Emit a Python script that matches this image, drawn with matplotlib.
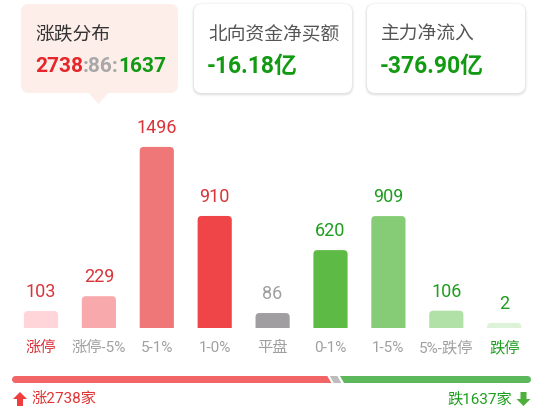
import numpy as np
import matplotlib
matplotlib.use("Agg")
import matplotlib.pyplot as plt
from matplotlib.patches import FancyBboxPatch, Polygon, Ellipse

plt.rcParams['font.family'] = ['Roboto', 'Noto Sans CJK SC', 'DejaVu Sans']

# data
categories = ["涨停", "涨停-5%", "5-1%", "1-0%", "平盘", "0-1%", "1-5%", "5%-跌停", "跌停"]
counts = [103, 229, 1496, 910, 86, 620, 909, 106, 2]
up_total = 2738
flat_total = 86
down_total = 1637
north_net = "-16.18亿"
main_net = "-376.90亿"

bar_colors = ["#FFD5D9", "#F8A9AC", "#F07777", "#F04548", "#A09EA1",
              "#5CBA45", "#86CC76", "#B2E1A7", "#DDF2D8"]
RED = "#D8343A"
GREEN = "#1E9E1E"
GRAY = "#A0A0A0"
label_colors = [RED] * 4 + [GRAY] + [GREEN] * 4
cat_colors = [RED] + [GRAY] * 7 + [GREEN]

W, H = 550, 412
fig = plt.figure(figsize=(W / 100, H / 100), dpi=100)

# background layer in pixel coords for the cards
bg = fig.add_axes([0, 0, 1, 1])
bg.set_xlim(0, W)
bg.set_ylim(H, 0)
bg.axis("off")


def card(x, y, w, h, fill, shadow=True):
    if shadow:
        for d, a in [(2.5, 0.025), (1.5, 0.035), (0.6, 0.05)]:
            bg.add_patch(FancyBboxPatch((x - d, y - d + 1), w + 2 * d, h + 2 * d,
                                        boxstyle="round,pad=0,rounding_size=%g" % (8 + d),
                                        fc="#000000", ec="none", alpha=a))
    bg.add_patch(FancyBboxPatch((x, y), w, h, boxstyle="round,pad=0,rounding_size=8",
                                fc=fill, ec="none"))


card(21, 4, 157, 89, "#FDEEEA", shadow=False)
bg.add_patch(Polygon([(88, 92), (109, 92), (98.5, 104)], closed=True, fc="#FDEEEA", ec="none"))
card(194, 4, 158, 89, "#FFFFFF")
card(367, 4, 158, 89, "#FFFFFF")

bg.text(35, 35, "涨跌分布", fontsize=13.5, color="#333333", va="center")
t1 = bg.text(35, 66, str(up_total), fontsize=15, fontweight="bold", color="#E5262B", va="center")
t2 = bg.annotate(":" + str(flat_total) + ":", xy=(1, 0), xycoords=t1, va="bottom",
                 fontsize=15, fontweight="bold", color="#A8A8A8")
bg.annotate(str(down_total), xy=(1, 0), xycoords=t2, va="bottom",
            fontsize=15, fontweight="bold", color="#139A13")

bg.text(208, 35, "北向资金净买额", fontsize=13.5, color="#555555", va="center")
bg.text(207, 66, north_net, fontsize=16.5, fontweight="bold", color="#139A13", va="center")
bg.text(381, 35, "主力净流入", fontsize=13.5, color="#555555", va="center")
bg.text(380, 66, main_net, fontsize=16.5, fontweight="bold", color="#139A13", va="center")

# bar chart
base = -41
ax = fig.add_axes([12.05 / W, (H - 328) / H, 521.1 / W, 216.9 / H])
ax.set_xlim(-0.5, len(counts) - 0.5)
ax.set_ylim(base, 1800)
ax.axis("off")

x = np.arange(len(counts))
vals = np.array(counts)
bars = ax.bar(x, vals - base + 100, bottom=base - 100, width=0.59, color=bar_colors)

# round the top corners (bottom part is clipped by the axes)
px_x = 1 / 57.9
px_y = (1800 - base) / 216.9
for rect in bars:
    rect.set_visible(False)
    p = FancyBboxPatch((rect.get_x(), rect.get_y()), rect.get_width(), rect.get_height(),
                       boxstyle="round,pad=0,rounding_size=%g" % (4 * px_x),
                       mutation_aspect=px_y / px_x,
                       fc=rect.get_facecolor(), ec="none")
    ax.add_patch(p)

for i, v in enumerate(counts):
    ax.annotate(str(v), xy=(i, v), xytext=(0, 19), textcoords="offset pixels",
                ha="center", va="center", fontsize=13, color=label_colors[i],
                annotation_clip=False)
    ax.annotate(categories[i], xy=(i, base), xytext=(0, -20), textcoords="offset pixels",
                ha="center", va="center", fontsize=11, color=cat_colors[i],
                annotation_clip=False)

# up / flat / down ratio bar
total = up_total + flat_total + down_total
rb = fig.add_axes([12 / W, (H - 383) / H, 519 / W, 7 / H])
rb.set_xlim(0, total)
rb.set_ylim(0, 1)
rb.axis("off")
cpx = total / 519
s = 4 * cpx
g = 1.2 * cpx
r = 3.5 * cpx
b1 = up_total
b2 = up_total + flat_total
rb.add_patch(Ellipse((r, 0.5), 2 * r, 1, fc="#F26566", ec="none"))
rb.add_patch(Polygon([(r, 0), (b1 - g + s / 2, 0), (b1 - g - s / 2, 1), (r, 1)],
                     fc="#F26566", ec="none"))
rb.add_patch(Polygon([(b1 + g + s / 2, 0), (b2 - g + s / 2, 0), (b2 - g - s / 2, 1), (b1 + g - s / 2, 1)],
                     fc="#BDBDBD", ec="none"))
rb.add_patch(Polygon([(b2 + g + s / 2, 0), (total - r, 0), (total - r, 1), (b2 + g - s / 2, 1)],
                     fc="#5DB85C", ec="none"))
rb.add_patch(Ellipse((total - r, 0.5), 2 * r, 1, fc="#5DB85C", ec="none"))

# arrows and totals
bg.add_patch(Polygon([(20, 392), (27, 399), (23, 399), (23, 406), (17, 406), (17, 399), (13, 399)],
                     fc="#EE3E3E", ec="none"))
bg.text(32, 399, "涨%d家" % up_total, fontsize=11, color="#E03535", va="center")
bg.add_patch(Polygon([(523.5, 406), (530.5, 399), (526.5, 399), (526.5, 392), (520.5, 392), (520.5, 399), (516.5, 399)],
                     fc="#4DAF3C", ec="none"))
bg.text(512, 399, "跌%d家" % down_total, fontsize=11, color="#1E9E1E", va="center", ha="right")

fig.savefig("out.png", dpi=100)
